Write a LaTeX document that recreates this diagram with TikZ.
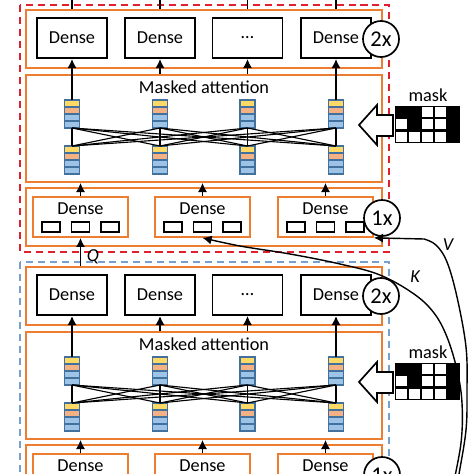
\documentclass[tikz,border=0pt]{standalone}
\usepackage{fontspec}
\setmainfont{Carlito}
\usetikzlibrary{arrows.meta}
\definecolor{frameorange}{RGB}{237,125,49}
\definecolor{framered}{RGB}{226,32,45}
\definecolor{frameblue}{RGB}{120,160,205}
\definecolor{cellyellow}{RGB}{255,217,102}
\definecolor{cellsalmon}{RGB}{244,177,131}
\definecolor{cellblue}{RGB}{157,195,230}
\definecolor{celledge}{RGB}{65,113,156}
\tikzset{
  vecstack/.pic={
    \fill[cellyellow] (-7.5,-14) rectangle (7.5,-7);
    \fill[cellsalmon] (-7.5,-7) rectangle (7.5,0);
    \fill[cellblue] (-7.5,0) rectangle (7.5,14);
    \foreach \yy in {-7,0,7} \draw[celledge, line width=0.8pt] (-7.5,\yy) -- (7.5,\yy);
    \draw[celledge, line width=0.9pt] (-7.5,-14) rectangle (7.5,14);
    \coordinate (-top) at (0,-14);
    \coordinate (-bot) at (0,14);
  }
}
\begin{document}
\begin{tikzpicture}[x=0.025cm, y=-0.025cm,
  every node/.style={font=\fontsize{13}{15}\selectfont},
  densebox/.style={draw, line width=1.3pt, minimum width=1.75cm, minimum height=1cm, inner sep=0pt},
  layerbox/.style={draw=frameorange, line width=1.2pt, minimum width=8.9cm, inner sep=0pt},
  inbox/.style={draw=frameorange, line width=1.2pt, minimum width=2.375cm, minimum height=1cm, inner sep=0pt},
  unitbox/.style={draw, line width=0.9pt, minimum width=0.45cm, minimum height=0.25cm, inner sep=0pt},
  repeat/.style={circle, draw, fill=white, line width=1.2pt, minimum size=0.9cm, inner sep=0pt, font=\fontsize{16}{18}\selectfont},
  arr/.style={-{Latex[length=6.5pt,width=6.5pt]}, line width=1.2pt},
  link/.style={line width=0.8pt},
  bigarrow/.style={draw, line width=1.2pt, fill=white},
  qkv/.style={font=\fontsize{13}{15}\selectfont\itshape},
]
\useasboundingbox (0,0) rectangle (474,474);
\clip (0,0) rectangle (474,474);

\foreach \b/\dy/\fc in {t/0/framered, b/257/frameblue} {
\begin{scope}[shift={(0,\dy)}]
  % block frame
  \draw[\fc, line width=1.1pt, dash pattern=on 5pt off 3.5pt] (20,5) rectangle (389,252);

  % three layers
  \node[layerbox, minimum height=1.45cm] (\b-top) at (204,39) {};
  \node[layerbox, minimum height=2.675cm] (\b-att) at (204,128.5) {};
  \node[layerbox, minimum height=1.45cm] (\b-low) at (204,217) {};
  \node (\b-attlabel) at (204,87) {Masked attention};

  % output dense boxes and vector stacks
  \foreach \i/\x/\t in {1/72/Dense, 2/160/Dense, 3/247.5/\dots, 4/336/Dense} {
    \node[densebox] (\b-d\i) at (\x,38) {\t};
    \pic (\b-u\i) at (\x,114) {vecstack};
    \pic (\b-l\i) at (\x,160) {vecstack};
  }
  \foreach \i in {1,...,4}
    \foreach \j in {1,...,4}
      \draw[link] (\b-u\i-bot) -- (\b-l\j-top);
  \draw[arr] (\b-u1-top) -- (\b-d1);
  \draw[arr] (\b-d2 |- \b-att.north) -- (\b-d2);
  \draw[arr] (\b-d3 |- \b-att.north) -- (\b-d3);
  \draw[arr] (\b-u4-top) -- (\b-d4);

  % input dense layer
  \foreach \i/\x in {1/80.5, 2/202.5, 3/325.5} {
    \node[inbox] (\b-in\i) at (\x,217) {};
    \node (\b-inlabel\i) at (\x,209) {Dense};
    \foreach \k/\dx in {a/-29.5, b/0, c/29.5}
      \node[unitbox] (\b-unit\i\k) at ({\x+\dx},227) {};
    \draw[arr] (\b-in\i.north) -- (\b-in\i.north |- \b-att.south);
  }

  \node[repeat] (\b-rep2) at (381,39) {2x};
  \node[repeat] (\b-rep1) at (382,218) {1x};

  % mask
  \node (\b-masklabel) at (428,95) {mask};
  \fill (395,105.5) rectangle (460,143);
  \foreach \cc/\rr in {2/0,3/0,0/1,2/1,3/1,0/2,1/2,2/2,3/2}
    \fill[white] ({395+13*\cc+1.2},{105.5+12.5*\rr+1.2}) rectangle ({395+13*\cc+11.8},{105.5+12.5*\rr+11.3});
  \draw[bigarrow] (393,115) -- (377,115) -- (377,105) -- (359,125) -- (377,145) -- (377,136) -- (393,136) -- cycle;
\end{scope}
}

% lines leaving the top block
\coordinate (topedge) at (0,-5);
\foreach \i in {1,...,4}
  \draw[line width=1.2pt] (t-d\i |- t-top.north) -- (t-d\i |- topedge);

% Q, K, V inputs
\draw[arr] (t-in1 |- b-top.north) -- (t-in1);
\node[qkv] (qlabel) at (93,257) {Q};

\coordinate (kin) at (452,490);
\coordinate (vin) at (456,490);
\draw[arr, line width=1pt] plot[smooth, tension=0.6] coordinates {(kin) (461,443) (462,403) (457,370) (447,337) (434,313) (414,294) (380,275) (340,264) (290,254) (240,246) (t-in2.south)};
\node[qkv] (klabel) at (415,277) {K};
\draw[arr, line width=1pt] plot[smooth, tension=0.6] coordinates {(vin) (459,474) (466,430) (467,390) (466,347) (457,297) (447,262) (436,245) (424,239)} -- (t-in3.south east);
\node[qkv] (vlabel) at (448,245) {V};
\end{tikzpicture}
\end{document}
